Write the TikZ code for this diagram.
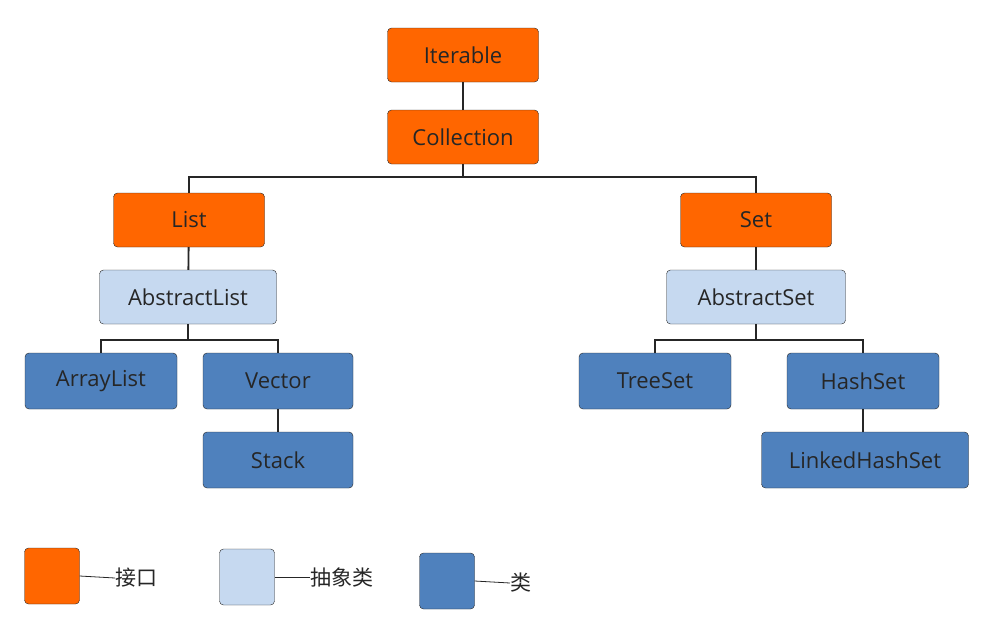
\documentclass[tikz,border=0pt]{standalone}
\usepackage{fontspec}
\setmainfont{Open Sans}
\newfontfamily\cjk{Noto Sans CJK SC}
\definecolor{iface}{HTML}{FF6600}
\definecolor{abs}{HTML}{C6D9F0}
\definecolor{cls}{HTML}{4F81BD}
\definecolor{txt}{HTML}{262626}
\begin{document}
\begin{tikzpicture}[x=1pt,y=-1pt,
  box/.style={draw=black!85, rounded corners=4pt, minimum height=54pt, font=\fontsize{22}{26}\selectfont, text=txt, inner sep=0pt},
  if/.style={box, fill=iface, minimum width=151pt},
  ab/.style={box, fill=abs},
  cl/.style={box, fill=cls, minimum width=152pt, minimum height=56pt},
  lg/.style={draw=black!85, rounded corners=4pt, minimum width=55pt, minimum height=56pt, inner sep=0pt},
  lt/.style={font=\cjk\fontsize{21}{24}\selectfont, text=txt, inner sep=0pt},
  con/.style={line width=1.8pt, draw=black!85}]
\useasboundingbox (0,0) rectangle (988,624);
\node[if] (it) at (463,55) {Iterable};
\node[if] (co) at (463,137) {Collection};
\node[if] (li) at (189,220) {List};
\node[if] (se) at (756,220) {Set};
\node[ab, minimum width=177pt] (al) at (188,297) {AbstractList};
\node[ab, minimum width=179pt] (as) at (756,297) {AbstractSet};
\node[cl] (ar) at (101,381) {ArrayList};
\node[cl, minimum width=150pt] (ve) at (278,381) {Vector};
\node[cl, minimum width=150pt] (st) at (278,460) {Stack};
\node[cl] (ts) at (655,381) {TreeSet};
\node[cl] (hs) at (863,381) {HashSet};
\node[cl, minimum width=207pt] (lh) at (865,460) {LinkedHashSet};
\draw[con] (it) -- (co);
\draw[con] (co.south) |- (189,177) -- (li.north);
\draw[con] (co.south) |- (756,177) -- (se.north);
\draw[con] (li) -- (al);
\draw[con] (se) -- (as);
\draw[con] (al.south) |- (101,340) -- (ar.north);
\draw[con] (al.south) |- (278,340) -- (ve.north);
\draw[con] (as.south) |- (655,340) -- (ts.north);
\draw[con] (as.south) |- (863,340) -- (hs.north);
\draw[con] (ve) -- (st);
\draw[con] (hs) -- (hs |- lh.north);
% legend
\node[lg, fill=iface] (k1) at (52,576) {};
\node[lt, anchor=west] (t1) at (115,578) {接口};
\node[lg, fill=abs] (k2) at (247,577) {};
\node[lt, anchor=west] (t2) at (310,577) {抽象类};
\node[lg, fill=cls] (k3) at (447,581) {};
\node[lt, anchor=west] (t3) at (510,583) {类};
\draw[draw=black!85, line width=0.8pt] (k1.east) -- (t1.west);
\draw[draw=black!85, line width=0.8pt] (k2.east) -- (t2.west);
\draw[draw=black!85, line width=0.8pt] (k3.east) -- (t3.west);
\end{tikzpicture}
\end{document}
